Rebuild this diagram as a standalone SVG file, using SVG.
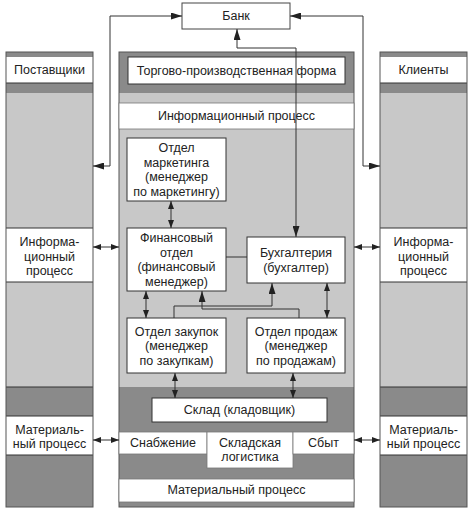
<svg xmlns="http://www.w3.org/2000/svg" width="474" height="511" viewBox="0 0 474 511">
<style>
.dk{fill:#8a8a8a}
.lt{fill:#c8c8c8}
.wh{fill:#ffffff}
.box{fill:#ffffff;stroke:#333;stroke-width:1}
.strip{fill:#ffffff;stroke:#777;stroke-width:0.8}
.frame{fill:none;stroke:#555;stroke-width:1}
text{font-family:"Liberation Sans",Arial,sans-serif;font-size:12.5px;fill:#222;text-anchor:middle}
.ln{fill:none;stroke:#333;stroke-width:1}
</style>
<defs>
<marker id="ah" viewBox="0 0 8 6" refX="8" refY="3" markerWidth="8" markerHeight="6" markerUnits="userSpaceOnUse" orient="auto-start-reverse">
<path d="M0,0 L8,3 L0,6 z" fill="#222"/>
</marker>
<marker id="ahb" viewBox="0 0 11 7" refX="11" refY="3.5" markerWidth="11" markerHeight="7" markerUnits="userSpaceOnUse" orient="auto-start-reverse">
<path d="M0,0 L11,3.5 L0,7 z" fill="#222"/>
</marker>
</defs>

<g id="bank">
<rect x="182" y="3" width="108" height="26" fill="#fff" stroke="#444" stroke-width="1"/>
<text x="236" y="20">Банк</text>
</g>

<g id="suppliers">
<rect class="dk" x="6" y="52" width="87" height="5"/>
<rect class="wh" x="6" y="57" width="87" height="26"/>
<rect class="dk" x="6" y="83" width="87" height="10"/>
<rect class="lt" x="6" y="93" width="87" height="135"/>
<rect class="wh" x="6" y="228" width="87" height="54"/>
<rect class="lt" x="6" y="282" width="87" height="105"/>
<rect class="dk" x="6" y="387" width="87" height="29"/>
<rect class="wh" x="6" y="416" width="87" height="39"/>
<rect class="dk" x="6" y="455" width="87" height="52"/>
<path class="ln" d="M6,83 H93 M6,228 H93 M6,282 H93 M6,387 H93 M6,416 H93 M6,455 H93" stroke="#666" stroke-width="0.6"/>
<rect class="frame" x="6" y="52" width="87" height="455"/>
<text x="49.5" y="74">Поставщики</text>
<text x="49.5" y="246">Информа-</text>
<text x="49.5" y="261">ционный</text>
<text x="49.5" y="275">процесс</text>
<text x="49.5" y="434">Материаль-</text>
<text x="49.5" y="448">ный процесс</text>
</g>

<g id="clients">
<rect class="dk" x="380" y="52" width="87" height="5"/>
<rect class="wh" x="380" y="57" width="87" height="26"/>
<rect class="dk" x="380" y="83" width="87" height="10"/>
<rect class="lt" x="380" y="93" width="87" height="135"/>
<rect class="wh" x="380" y="228" width="87" height="54"/>
<rect class="lt" x="380" y="282" width="87" height="105"/>
<rect class="dk" x="380" y="387" width="87" height="29"/>
<rect class="wh" x="380" y="416" width="87" height="39"/>
<rect class="dk" x="380" y="455" width="87" height="52"/>
<path class="ln" d="M380,83 H467 M380,228 H467 M380,282 H467 M380,387 H467 M380,416 H467 M380,455 H467" stroke="#666" stroke-width="0.6"/>
<rect class="frame" x="380" y="52" width="87" height="455"/>
<text x="423.5" y="74">Клиенты</text>
<text x="423.5" y="246">Информа-</text>
<text x="423.5" y="261">ционный</text>
<text x="423.5" y="275">процесс</text>
<text x="423.5" y="434">Материаль-</text>
<text x="423.5" y="448">ный процесс</text>
</g>

<g id="firm">
<rect class="dk" x="119" y="52" width="235" height="41"/>
<rect class="lt" x="119" y="93" width="235" height="294"/>
<rect class="dk" x="119" y="387" width="235" height="120"/>
<rect class="frame" x="119" y="52" width="235" height="455"/>
</g>

<g id="trade-form">
<rect class="box" x="128" y="57" width="217" height="27"/>
<text x="236.5" y="75">Торгово-производственная форма</text>
</g>

<g id="info-process">
<rect class="strip" x="119" y="103" width="235" height="26"/>
<text x="236.5" y="120">Информационный процесс</text>
</g>

<g id="marketing">
<rect class="box" x="127" y="138" width="99" height="63"/>
<text x="176.5" y="152">Отдел</text>
<text x="176.5" y="167">маркетинга</text>
<text x="176.5" y="181">(менеджер</text>
<text x="176.5" y="196">по маркетингу)</text>
</g>

<g id="finance">
<rect class="box" x="127" y="228" width="99" height="63"/>
<text x="176.5" y="242">Финансовый</text>
<text x="176.5" y="257">отдел</text>
<text x="176.5" y="271">(финансовый</text>
<text x="176.5" y="286">менеджер)</text>
</g>

<g id="accounting">
<rect class="box" x="247" y="237" width="98" height="46"/>
<text x="296" y="257">Бухгалтерия</text>
<text x="296" y="272">(бухгалтер)</text>
</g>

<g id="purchasing">
<rect class="box" x="127" y="318" width="99" height="55"/>
<text x="176.5" y="336">Отдел закупок</text>
<text x="176.5" y="350">(менеджер</text>
<text x="176.5" y="365">по закупкам)</text>
</g>

<g id="sales">
<rect class="box" x="247" y="318" width="98" height="55"/>
<text x="296" y="336">Отдел продаж</text>
<text x="296" y="350">(менеджер</text>
<text x="296" y="365">по продажам)</text>
</g>

<g id="warehouse">
<rect class="box" x="152" y="398" width="175" height="24"/>
<text x="239.5" y="414">Склад (кладовщик)</text>
</g>

<g id="supply">
<rect class="strip" x="119" y="432" width="88" height="22"/>
<text x="163" y="447">Снабжение</text>
</g>

<g id="logistics">
<rect class="strip" x="207" y="432" width="86" height="36"/>
<text x="250" y="447">Складская</text>
<text x="250" y="461">логистика</text>
</g>

<g id="distribution">
<rect class="strip" x="293" y="432" width="61" height="22"/>
<text x="323.5" y="447">Сбыт</text>
</g>

<g id="material-process">
<rect class="strip" x="119" y="479" width="235" height="23"/>
<text x="236.5" y="494">Материальный процесс</text>
</g>

<g id="connectors" class="ln">
<path d="M93,166 H110 V16 H182" marker-start="url(#ahb)" marker-end="url(#ahb)"/>
<path d="M380,166 H363 V16 H290" marker-start="url(#ahb)" marker-end="url(#ahb)"/>
<path d="M296,237 V48 H237 V29" marker-start="url(#ahb)" marker-end="url(#ahb)"/>
<path d="M171,201 V228" marker-start="url(#ah)" marker-end="url(#ah)"/>
<path d="M226,257 H247"/>
<path d="M146,291 V318" marker-start="url(#ah)" marker-end="url(#ah)"/>
<path d="M327,283 V318" marker-start="url(#ah)" marker-end="url(#ah)"/>
<path d="M174,318 V306 H272 V283" marker-end="url(#ahb)"/>
<path d="M299,318 V309 H202 V291" marker-end="url(#ahb)"/>
<path d="M175,373 V398" marker-start="url(#ah)" marker-end="url(#ah)"/>
<path d="M293,373 V398" marker-start="url(#ah)" marker-end="url(#ah)"/>
<path d="M93,247 H119" marker-start="url(#ah)" marker-end="url(#ah)"/>
<path d="M93,440 H119" marker-start="url(#ah)" marker-end="url(#ah)"/>
<path d="M354,247 H380" marker-start="url(#ah)" marker-end="url(#ah)"/>
<path d="M354,440 H380" marker-start="url(#ah)" marker-end="url(#ah)"/>
</g>
</svg>
